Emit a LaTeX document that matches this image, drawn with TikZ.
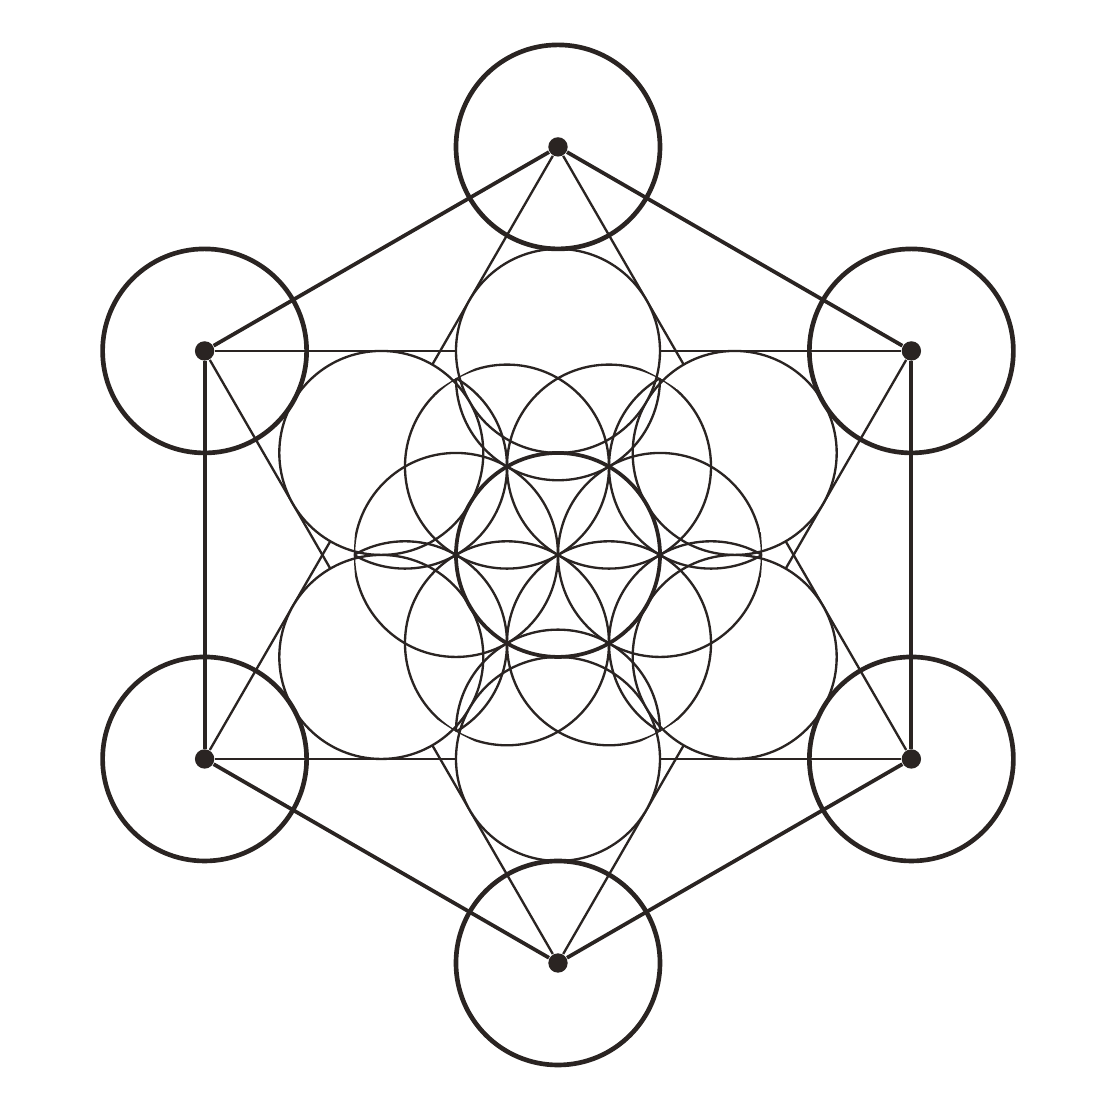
\documentclass[tikz,border=0pt]{standalone}
\usepackage{tikz}
\definecolor{ink}{RGB}{42,36,34}

\begin{document}
\begin{tikzpicture}[ink,
    dot/.style = {circle, fill=ink, inner sep=0pt, minimum size=1.9mm},
    outer/.style = {line width=1.3pt},
    thinline/.style = {line width=0.65pt},
    edge/.style = {line width=1.05pt}]
    \useasboundingbox (-5.47,-5.38) rectangle (5.47,5.44);
    % Nodes
    \node[dot] (top) at (90:4) {};
    \node[dot] (topright) at (30:4) {};
    \node[dot] (botright) at (-30:4) {};
    \node[dot] (bot) at (-90:4) {};
    \node[dot] (botleft) at (210:4) {};
    \node[dot] (topleft) at (150:4) {};
    % Edges
    \draw[edge] (top) -- (topright);
    \draw[edge] (top) -- (topleft);
    \draw[edge] (bot) -- (botright);
    \draw[edge] (bot) -- (botleft);
    \draw[edge] (topleft) -- (botleft);
    \draw[edge] (topright) -- (botright);
    \draw[thinline] (top) -- (botleft);
    \draw[thinline] (top) -- (botright);
    \draw[thinline] (bot) -- (topleft);
    \draw[thinline] (bot) -- (topright);
    \draw[thinline] (topleft) -- (topright);
    \draw[thinline] (botleft) -- (botright);
    % Inner ring of the fruit
    \foreach \a in {30,90,...,330}
        \filldraw[thinline, fill=white] (\a:2) circle (1);
    % Flower
    \begin{scope}
        \clip (0,0) circle (2);
        \foreach \a in {0,60,...,300} {
            \draw[thinline] (\a:1) circle (1);
            \draw[thinline] (\a+30:1.7321) circle (1);
        }
    \end{scope}
    \draw[edge] (0,0) circle (1);
    % Outer ring
    \foreach \v in {top,topright,botright,bot,botleft,topleft}
        \draw[outer] (\v) circle (1);
\end{tikzpicture}
\end{document}
